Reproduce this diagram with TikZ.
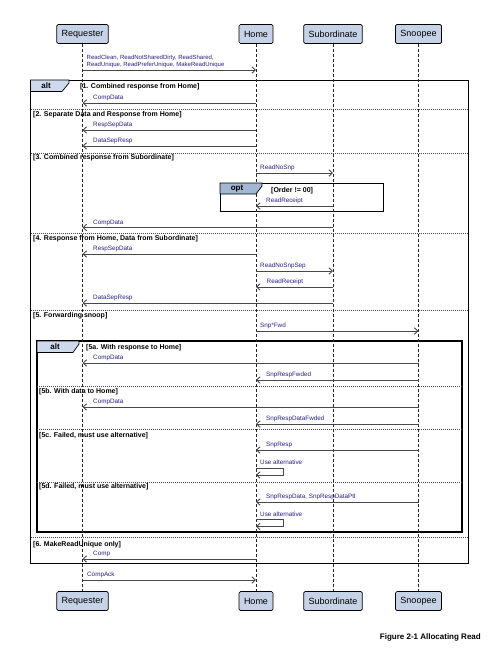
\documentclass[tikz,border=0pt]{standalone}
\usepackage{fontspec}
\setmainfont{Liberation Sans}
\usetikzlibrary{positioning,calc,arrows.meta}

\definecolor{actorfill}{RGB}{198,211,230}
\definecolor{tabfill}{RGB}{206,218,236}
\definecolor{optfill}{RGB}{163,182,210}
\definecolor{msgtext}{RGB}{40,30,130}

\begin{document}
\begin{tikzpicture}[x=1pt,y=-1pt,%
      actor/.style={draw,fill=actorfill,rounded corners=1.5pt,line width=0.7pt,minimum height=19pt,inner xsep=5pt,font=\fontsize{9}{10}\selectfont},%
      life/.style={dash pattern=on 3pt off 2pt,line width=0.7pt,black!85},%
      msg/.style={line width=0.9pt,black!72,-{Straight Barb[length=3.5pt,width=6.5pt]}},%
      lbl/.style={anchor=base west,inner sep=0pt,text=msgtext,font=\fontsize{6.3}{7.3}\selectfont},%
      guard/.style={anchor=base west,inner sep=0pt,font=\bfseries\fontsize{7}{8}\selectfont},%
      divider/.style={dash pattern=on 1pt off 1pt,line width=0.7pt,black!70},%
      frame/.style={line width=0.8pt},%
      tab/.style={draw,fill=tabfill,line width=0.7pt},%
      tabtext/.style={inner sep=0pt,font=\bfseries\fontsize{8}{9}\selectfont}]
      \useasboundingbox (0,0) rectangle (495,655);

      % % Actors
      \node[actor] (req)  at (82.5,34) {Requester};
      \node[actor] (home) at (256,34) {Home};
      \node[actor] (sub)  at (333,34) {Subordinate};
      \node[actor] (snp)  at (418.5,34) {Snoopee};
      \node[actor] (reqB)  at (82.5,601) {Requester};
      \node[actor] (homeB) at (256,601) {Home};
      \node[actor] (subB)  at (333,601) {Subordinate};
      \node[actor] (snpB)  at (418.5,601) {Snoopee};

      % % Frames
      \draw[frame] (30.5,80) rectangle (468,563.5);
      \draw[tab] (30.5,80) -- (69,80) -- (69,83) -- (62,91.5) -- (30.5,91.5) -- cycle;
      \node[tabtext] (altA) at (46,86) {alt};
      \draw[frame] (220,183) rectangle (383,211.5);
      \draw[frame,line width=1.3pt] (37,341) rectangle (462,532);
      \draw[divider] (30.5,109.5) -- (468,109.5);
      \draw[divider] (30.5,153) -- (468,153);
      \draw[divider] (30.5,233) -- (468,233);
      \draw[divider] (30.5,310) -- (468,310);
      \draw[divider] (37,386) -- (462,386);
      \draw[divider] (37,429.5) -- (462,429.5);
      \draw[divider] (37,482) -- (462,482);
      \draw[divider] (30.5,537) -- (468,537);

      % % Lifelines
      \draw[life] (req.south) -- (reqB.north);
      \draw[life] (home.south) -- (homeB.north);
      \draw[life] (sub.south) -- (subB.north);
      \draw[life] (snp.south) -- (snpB.north);

      % Tabs on top of lifelines
      \draw[tab,fill=optfill] (220,183) -- (262,183) -- (262,186) -- (256,194) -- (220,194) -- cycle;
      \node[tabtext] (opt) at (237,188.5) {opt};
      \draw[tab] (37,341) -- (79,341) -- (79,344) -- (73,352.5) -- (37,352.5) -- cycle;
      \node[tabtext] (altB) at (55,346.5) {alt};

      % % Guards
      \node[guard] (g1) at (80,88.5) {[1. Combined response from Home]};
      \node[guard] (g2) at (33,116.8) {[2. Separate Data and Response from Home]};
      \node[guard] (g3) at (33,160) {[3. Combined response from Subordinate]};
      \node[guard] (gopt) at (271,192.5) {[Order != 00]};
      \node[guard] (g4) at (33,240.8) {[4. Response from Home, Data from Subordinate]};
      \node[guard] (g5) at (33,317.5) {[5. Forwarding snoop]};
      \node[guard] (g5a) at (86,349) {[5a. With response to Home]};
      \node[guard] (g5b) at (39,393.5) {[5b. With data to Home]};
      \node[guard] (g5c) at (39,437.5) {[5c. Failed, must use alternative]};
      \node[guard] (g5d) at (39,488.5) {[5d. Failed, must use alternative]};
      \node[guard] (g6) at (33,546.5) {[6. MakeReadUnique only]};

      % % Messages
      \draw[msg] (req |- 0,70) -- (home |- 0,70);
      \node[lbl,anchor=south west,align=left,font=\fontsize{6}{7}\selectfont] (readclean) at (86.5,67.5) {ReadClean, ReadNotSharedDirty, ReadShared,\\ReadUnique, ReadPreferUnique, MakeReadUnique};
      \draw[msg] (home |- 0,103) -- (req |- 0,103);
      \node[lbl] (compdata1) at (93,99.5) {CompData};
      \draw[msg] (home |- 0,130) -- (req |- 0,130);
      \node[lbl] (respsep2) at (93,126.5) {RespSepData};
      \draw[msg] (home |- 0,146) -- (req |- 0,146);
      \node[lbl] (datasep2) at (93,142.5) {DataSepResp};
      \draw[msg] (home |- 0,173) -- (sub |- 0,173);
      \node[lbl] (readnosnp) at (260,169.5) {ReadNoSnp};
      \draw[msg] (sub |- 0,206) -- (home |- 0,206);
      \node[lbl] (receipt3) at (266,202.5) {ReadReceipt};
      \draw[msg] (sub |- 0,227.5) -- (req |- 0,227.5);
      \node[lbl] (compdata3) at (93,224) {CompData};
      \draw[msg] (home |- 0,254) -- (req |- 0,254);
      \node[lbl] (respsep4) at (93,250.5) {RespSepData};
      \draw[msg] (home |- 0,271) -- (sub |- 0,271);
      \node[lbl] (readnosnpsep) at (260,267.5) {ReadNoSnpSep};
      \draw[msg] (sub |- 0,287) -- (home |- 0,287);
      \node[lbl] (receipt4) at (266.5,283.5) {ReadReceipt};
      \draw[msg] (sub |- 0,303) -- (req |- 0,303);
      \node[lbl] (datasep4) at (93,299.5) {DataSepResp};
      \draw[msg] (home |- 0,331) -- (snp |- 0,331);
      \node[lbl] (snpfwd) at (260,327.5) {Snp*Fwd};
      \draw[msg] (snp |- 0,363) -- (req |- 0,363);
      \node[lbl] (compdata5a) at (93,359.5) {CompData};
      \draw[msg] (snp |- 0,380) -- (home |- 0,380);
      \node[lbl] (snprespfwded) at (266,376.5) {SnpRespFwded};
      \draw[msg] (snp |- 0,407) -- (req |- 0,407);
      \node[lbl] (compdata5b) at (93,403.5) {CompData};
      \draw[msg] (snp |- 0,424) -- (home |- 0,424);
      \node[lbl] (snprespdatafwded) at (266,420.5) {SnpRespDataFwded};
      \draw[msg] (snp |- 0,450) -- (home |- 0,450);
      \node[lbl] (snpresp) at (266,446.5) {SnpResp};
      \draw[msg] (home |- 0,468) -- ++(27,0) -- ++(0,7) -- (home |- 0,475);
      \node[lbl] (usealt5c) at (260,464.5) {Use alternative};
      \draw[msg] (snp |- 0,502) -- (home |- 0,502);
      \node[lbl] (snprespdata) at (266,498.5) {SnpRespData, SnpRespDataPtl};
      \draw[msg] (home |- 0,519.5) -- ++(27,0) -- ++(0,7) -- (home |- 0,526.5);
      \node[lbl] (usealt5d) at (260,516) {Use alternative};
      \draw[msg] (home |- 0,559) -- (req |- 0,559);
      \node[lbl] (comp) at (93,555.5) {Comp};
      \draw[msg] (req |- 0,580) -- (home |- 0,580);
      \node[lbl] (compack) at (87,576.5) {CompAck};

      % Caption
      \node[anchor=base east,inner sep=0pt,font=\bfseries\fontsize{8}{9}\selectfont] (caption) at (481,639.5) {Figure 2-1 Allocating Read};
  \end{tikzpicture}
\end{document}
